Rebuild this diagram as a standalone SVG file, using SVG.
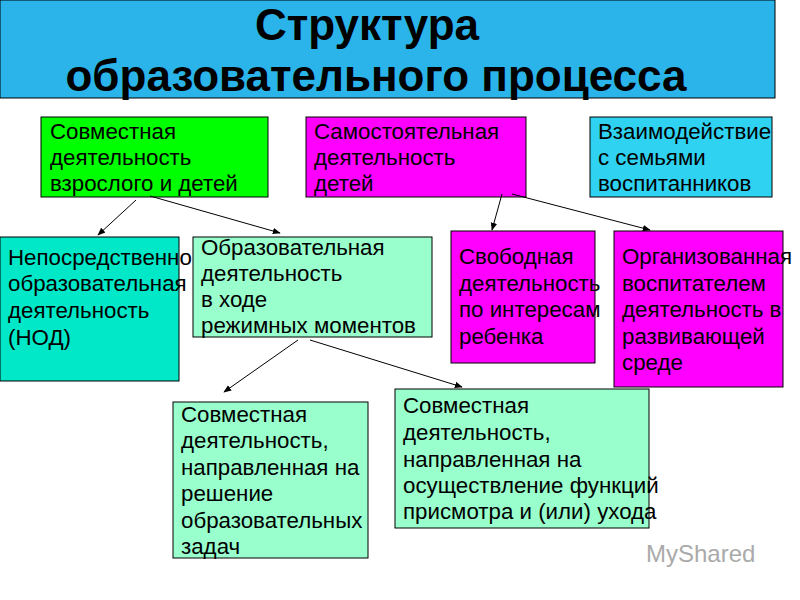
<svg xmlns="http://www.w3.org/2000/svg" width="800" height="600" viewBox="0 0 800 600">
<style>
.b{stroke:#000;stroke-width:1}
.t{font-family:"Liberation Sans",Arial,sans-serif;font-size:22.3px;fill:#000}
.h{font-family:"Liberation Sans",Arial,sans-serif;font-size:44px;font-weight:bold;fill:#000;text-anchor:middle}
.c{stroke:#000;stroke-width:1;fill:none;marker-end:url(#a)}
</style>
<defs><marker id="a" viewBox="0 0 10 10" refX="9" refY="5" markerWidth="8" markerHeight="8" orient="auto"><path d="M0,1 L10,5 L0,9 z" fill="#000"/></marker></defs>
<rect width="800" height="600" fill="#fff"/>
<g id="title"><rect x="0" y="0" width="775" height="98" fill="#2ab4ea" class="b"/>
<text class="h" x="367" y="40">Структура</text><text class="h" x="376" y="91">образовательного процесса</text></g>
<g id="n1"><rect x="41" y="117" width="227" height="80" fill="#00ff00" class="b"/>
<text class="t" x="50" y="139">Совместная</text><text class="t" x="50" y="165">деятельность</text><text class="t" x="50" y="191">взрослого и детей</text></g>
<g id="n2"><rect x="306" y="117" width="220" height="80" fill="#ff00ff" class="b"/>
<text class="t" x="314" y="139">Самостоятельная</text><text class="t" x="314" y="165">деятельность</text><text class="t" x="314" y="191">детей</text></g>
<g id="n3"><rect x="590" y="117" width="182" height="80" fill="#2fd2f0" class="b"/>
<text class="t" x="598" y="139">Взаимодействие</text><text class="t" x="598" y="165">с семьями</text><text class="t" x="598" y="191">воспитанников</text></g>
<g id="n4"><rect x="0" y="237" width="179" height="144" fill="#00e8c8" class="b"/>
<text class="t" x="8" y="265">Непосредственно</text><text class="t" x="8" y="291">образовательная</text><text class="t" x="8" y="318"> деятельность</text><text class="t" x="8" y="345">(НОД)</text></g>
<g id="n5"><rect x="193" y="237" width="239" height="100" fill="#99ffcc" class="b"/>
<text class="t" x="201" y="255">Образовательная</text><text class="t" x="201" y="281">деятельность</text><text class="t" x="201" y="307">в ходе</text><text class="t" x="201" y="333">режимных моментов</text></g>
<g id="n6"><rect x="451" y="231" width="144" height="132" fill="#ff00ff" class="b"/>
<text class="t" x="459" y="264">Свободная</text><text class="t" x="459" y="291">деятельность</text><text class="t" x="459" y="317">по интересам</text><text class="t" x="459" y="344">ребенка</text></g>
<g id="n7"><rect x="614" y="231" width="169" height="156" fill="#ff00ff" class="b"/>
<text class="t" x="622" y="264">Организованная</text><text class="t" x="622" y="291">воспитателем</text><text class="t" x="622" y="317">деятельность в</text><text class="t" x="622" y="344">развивающей</text><text class="t" x="622" y="370">среде</text></g>
<g id="n8"><rect x="173" y="402" width="195" height="156" fill="#99ffcc" class="b"/>
<text class="t" x="181" y="422">Совместная</text><text class="t" x="181" y="448">деятельность,</text><text class="t" x="181" y="475">направленная на</text><text class="t" x="181" y="501">решение</text><text class="t" x="181" y="528">образовательных</text><text class="t" x="181" y="554">задач</text></g>
<g id="n9"><rect x="395" y="389" width="254" height="139" fill="#99ffcc" class="b"/>
<text class="t" x="403" y="413">Совместная</text><text class="t" x="403" y="440">деятельность,</text><text class="t" x="403" y="467">направленная на</text><text class="t" x="403" y="493">осуществление функций</text><text class="t" x="403" y="519">присмотра и (или) ухода</text></g>
<g id="connectors">
<line class="c" x1="136" y1="200" x2="98" y2="235"/>
<line class="c" x1="150" y1="196" x2="280" y2="233"/>
<line class="c" x1="502" y1="194" x2="492" y2="230"/>
<line class="c" x1="512" y1="194" x2="650" y2="230"/>
<line class="c" x1="298" y1="340" x2="224" y2="392"/>
<line class="c" x1="310" y1="340" x2="462" y2="387"/>
</g>
<text x="646" y="562" font-family="Liberation Sans,Arial,sans-serif" font-size="24" fill="#aaa">MyShared</text>
</svg>
